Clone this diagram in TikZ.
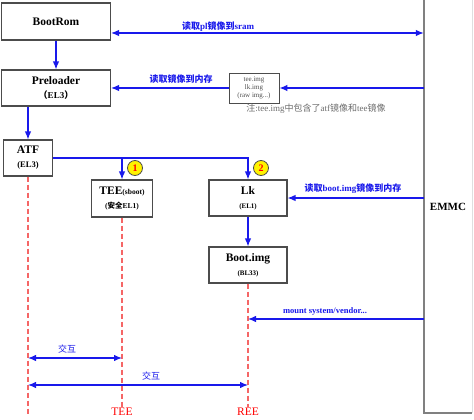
\documentclass[tikz,border=0pt]{standalone}
\usepackage{fontspec}
\setmainfont{Liberation Serif}
\newfontfamily\cjk{Noto Sans CJK SC}
\usetikzlibrary{arrows.meta, calc, positioning}
\definecolor{flowblue}{rgb}{0.1, 0.1, 0.92}
\definecolor{lanered}{rgb}{0.96, 0.4, 0.4}
\definecolor{boxgray}{rgb}{0.3, 0.3, 0.3}

\begin{document}
\begin{tikzpicture}[x=1pt, y=-1pt, >={Latex[length=8pt, width=6.5pt]}]%{{{
        \useasboundingbox (0, 0) rectangle (474, 420);

        \tikzstyle{b} = [draw=boxgray, line width=1.1pt, fill=white, inner sep=0pt, align=center, font=\bfseries\fontsize{11.5}{13}\selectfont];
        \tikzstyle{f} = [draw=flowblue, line width=1.2pt];
        \tikzstyle{l} = [text=flowblue, inner sep=1pt, font=\bfseries\fontsize{9}{10}\selectfont];
        \tikzstyle{d} = [draw=lanered, line width=1.5pt, dash pattern=on 5pt off 3pt];
        \tikzstyle{n} = [draw=boxgray, circle, fill=yellow, line width=0.8pt, inner sep=0pt, minimum size=15pt, text=red, font=\bfseries\fontsize{10}{10}\selectfont];

        % boxes
        \node [b, minimum width=109pt, minimum height=37pt] (bootrom) at (56, 21.5) {BootRom};
        \node [b, minimum width=109pt, minimum height=36pt] (preloader) at (56, 88) {Preloader\\[1pt]{\fontsize{9}{10}\selectfont{\cjk （}EL3{\cjk ）}}};
        \node [b, minimum width=49pt, minimum height=36pt] (atf) at (28, 158) {ATF\\[1pt]{\fontsize{8.5}{9}\selectfont(EL3)}};
        \node [b, minimum width=61pt, minimum height=37pt] (tee) at (122, 198.5) {TEE{\fontsize{7.5}{8}\selectfont(sboot)}\\[1pt]{\fontsize{7.5}{8}\selectfont({\cjk 安全}EL1)}};
        \node [b, minimum width=78pt, minimum height=36pt] (lk) at (248, 198) {Lk\\[1pt]{\fontsize{7}{7}\selectfont(EL1)}};
        \node [b, minimum width=78pt, minimum height=36pt] (bootimg) at (248, 265) {Boot.img\\[1pt]{\fontsize{7}{7}\selectfont(BL33)}};
        \node [draw=boxgray, line width=0.8pt, minimum width=50pt, minimum height=30pt, inner sep=0pt, align=center, text=boxgray, font=\fontsize{7}{8}\selectfont] (imgs) at (254, 88) {tee.img\\lk.img\\(raw img...)};
        \node [text=gray!85!black, font=\fontsize{9}{10}\selectfont] (note) at (316, 109) {{\cjk 注}:tee.img{\cjk 中包含了}atf{\cjk 镜像和}tee{\cjk 镜像}};

        \node [minimum width=48pt, minimum height=418pt, inner sep=0pt] (emmc) at (448, 204) { };
        \draw [gray, line width=1.5pt] (emmc.north west) -- (emmc.south west) -- (emmc.south east);
        \draw [gray!25, line width=0.8pt] (emmc.south east) -- (emmc.north east);
        \node [font=\bfseries\fontsize{11}{12}\selectfont] (emmclbl) at (448, 207) {EMMC};

        \node [n] (c1) at (135, 168) {1};
        \node [n] (c2) at (261, 168) {2};

        % flows
        \draw [f, <->] (bootrom.east |- 0, 33) -- (emmc.west |- 0, 33);
        \node [l] (lrom) at (218, 27) {{\cjk 读取}pl{\cjk 镜像到}sram};

        \draw [f, ->] (imgs.west) -- (preloader.east);
        \node [l] (lpre) at (181, 79) {{\cjk 读取镜像到内存}};
        \draw [f, ->] (emmc.west |- imgs) -- (imgs.east);

        \draw [f, ->] (bootrom) -- (preloader);
        \draw [f, ->] (preloader.south -| atf) -- (atf.north);
        \draw [f, ->] (atf.east) -| (lk.north);
        \draw [f, ->] (atf.east -| tee.north) -- (tee.north);

        \draw [f, ->] (emmc.west |- lk) -- (lk.east);
        \node [l] (llk) at (353, 189) {{\cjk 读取}boot.img{\cjk 镜像到内存}};
        \draw [f, ->] (lk) -- (bootimg);

        % lanes
        \coordinate (atfend) at (28, 414);
        \node [text=red, font=\fontsize{11.5}{12}\selectfont, inner sep=1pt] (teelbl) at (122, 412) {TEE};
        \node [text=red, font=\fontsize{11.5}{12}\selectfont, inner sep=1pt] (reelbl) at (248, 412) {REE};
        \draw [d] (atf.south) -- (atfend);
        \draw [d] (tee.south) -- (teelbl.north);
        \draw [d] (bootimg.south) -- (reelbl.north);

        \draw [f, ->] (emmc.west |- 0, 319) -- (bootimg.south |- 0, 319);
        \node [l, font=\bfseries\fontsize{8.5}{10}\selectfont] (lmnt) at (325, 311) {mount system/vendor...};

        \draw [f, <->] (atf.south |- 0, 358) -- (tee.south |- 0, 358);
        \node [l, font=\fontsize{9}{10}\selectfont] (lx1) at (67, 349) {{\cjk 交互}};
        \draw [f, <->] (atf.south |- 0, 385) -- (bootimg.south |- 0, 385);
        \node [l, font=\fontsize{9}{10}\selectfont] (lx2) at (151, 376) {{\cjk 交互}};
    \end{tikzpicture}
\end{document}
